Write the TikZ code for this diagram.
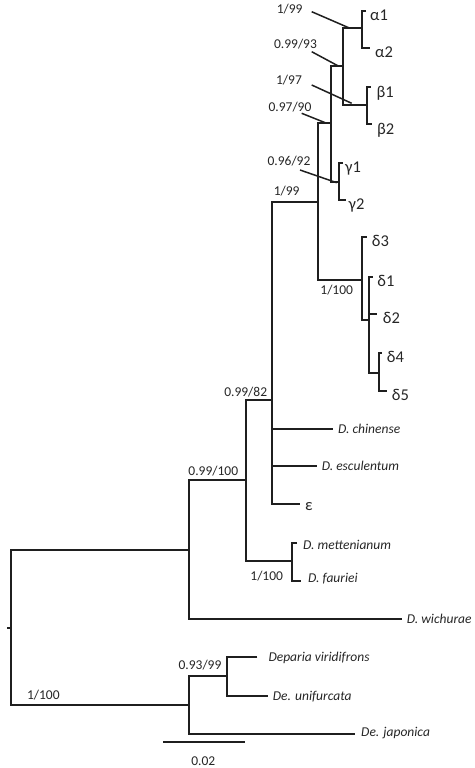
\documentclass[tikz,border=0pt]{standalone}
\usepackage{fontspec}
\setmainfont{Carlito}
\usetikzlibrary{calc}
\begin{document}
\begin{tikzpicture}[x=1pt,y=-1pt,
  br/.style={line width=1.8pt, line join=miter, color=black!88},
  ld/.style={line width=1.5pt, color=black!88},
  sup/.style={inner sep=0pt, font=\fontsize{13.5}{16}\selectfont, text=black!85},
  sp/.style={inner sep=0pt, anchor=west, font=\fontsize{13.5}{16}\selectfont\itshape, text=black!85},
  gk/.style={inner sep=0pt, anchor=base west, font=\fontsize{16.5}{19}\selectfont, text=black!85}]
\useasboundingbox (0,0) rectangle (474,768);
% internal nodes (x of bar, y of attachment)
\coordinate (R) at (11,627.7);
\coordinate (rs) at (7,627.7);
\coordinate (A) at (189,550);
\coordinate (B) at (246,480);
\coordinate (C) at (272,400);
\coordinate (D) at (318,202);
\coordinate (E) at (331,123);
\coordinate (F) at (343,66);
\coordinate (Al) at (362,28.3);
\coordinate (Be) at (367,105);
\coordinate (Gam) at (339,182);
\coordinate (Dl) at (362,280);
\coordinate (Dl2) at (369,320);
\coordinate (Dl3) at (379,373);
\coordinate (G) at (292,561);
\coordinate (H) at (189,705);
\coordinate (I) at (227,676);
% tips
\coordinate (a1) at (366,10.7);
\coordinate (a2) at (370,48.3);
\coordinate (b1) at (370.5,87);
\coordinate (b2) at (372,124);
\coordinate (g1) at (343,163);
\coordinate (g2) at (345.5,200);
\coordinate (d3) at (366.7,237);
\coordinate (d1) at (372.7,277);
\coordinate (d2) at (376.7,314);
\coordinate (d4) at (381.7,353);
\coordinate (d5) at (386.7,391);
\coordinate (chi) at (333,429);
\coordinate (esc) at (316.7,466);
\coordinate (eps) at (300,504);
\coordinate (met) at (297,543);
\coordinate (fau) at (301,581);
\coordinate (wic) at (401.7,619);
\coordinate (vir) at (257.3,656.7);
\coordinate (uni) at (267.7,695.7);
\coordinate (jap) at (355,734);
\coordinate (sb1) at (163.3,742.3);
\coordinate (sb2) at (245,742.3);
% branches
\draw[br] (rs) -- (R);
\draw[br] (A) -| (R) |- (H);
\draw[br] (B) -| (A) |- (wic);
\draw[br] (C) -| (B) |- (G);
\draw[br] (D) -| (C) |- (eps);
\draw[br] (C |- chi) -- (chi);
\draw[br] (C |- esc) -- (esc);
\draw[br] (E) -| (D) |- (Dl);
\draw[br] (F) -| (E) |- (Gam);
\draw[br] (Al) -| (F) |- (Be);
\draw[br] (a1) -| (Al) |- (a2);
\draw[br] (b1) -| (Be) |- (b2);
\draw[br] (g1) -| (Gam) |- (g2);
\draw[br] (d3) -| (Dl) |- (Dl2);
\draw[br] (d1) -| (Dl2) |- (Dl3);
\draw[br] (Dl2 |- d2) -- (d2);
\draw[br] (d4) -| (Dl3) |- (d5);
\draw[br] (met) -| (G) |- (fau);
\draw[br] (I) -| (H) |- (jap);
\draw[br] (vir) -| (I) |- (uni);
\draw[br] (sb1) -- (sb2);
% tip labels
\node[gk] (la1) at ($(a1)+(4,9.5)$) {α1};
\node[gk] (la2) at ($(a2)+(5,9.5)$) {α2};
\node[gk] (lb1) at ($(b1)+(6,10)$) {β1};
\node[gk] (lb2) at ($(b2)+(5,10)$) {β2};
\node[gk] (lg1) at ($(g1)+(2,9.5)$) {γ1};
\node[gk] (lg2) at ($(g2)+(3,9.5)$) {γ2};
\node[gk] (ld3) at ($(d3)+(5,9.5)$) {δ3};
\node[gk] (ld1) at ($(d1)+(4.5,9.5)$) {δ1};
\node[gk] (ld2) at ($(d2)+(6,9)$) {δ2};
\node[gk] (ld4) at ($(d4)+(5,9)$) {δ4};
\node[gk] (ld5) at ($(d5)+(5,9)$) {δ5};
\node[sp] (lchi) at ($(chi)+(5,0)$) {D. chinense};
\node[sp] (lesc) at ($(esc)+(5,0)$) {D. esculentum};
\node[gk] (leps) at ($(eps)+(5,6)$) {ε};
\node[sp] (lmet) at ($(met)+(6,1.5)$) {D. mettenianum};
\node[sp] (lfau) at ($(fau)+(7,-2)$) {D. fauriei};
\node[sp] (lwic) at ($(wic)+(5,0)$) {D. wichurae};
\node[sp] (lvir) at ($(vir)+(11,1.5)$) {Deparia viridifrons};
\node[sp] (luni) at ($(uni)+(5,1)$) {De. unifurcata};
\node[sp] (ljap) at ($(jap)+(6,-0.5)$) {De. japonica};
% support values
\node[sup] (s1) at (289.7,9) {1/99};
\node[sup] (s2) at (295.5,44) {0.99/93};
\node[sup] (s3) at (289,80) {1/97};
\node[sup] (s4) at (290,106.7) {0.97/90};
\node[sup] (s5) at (289,161) {0.96/92};
\node[sup] (s6) at (286.7,191) {1/99};
\node[sup] (s7) at (336.7,290.5) {1/100};
\node[sup] (s8) at (245.7,391.7) {0.99/82};
\node[sup] (s9) at (213.3,471.3) {0.99/100};
\node[sup] (s10) at (266.7,576) {1/100};
\node[sup] (s11) at (43.3,694.7) {1/100};
\node[sup] (s12) at (200,665) {0.93/99};
\node[sup] (s13) at (203.3,761.5) {0.02};
% leader lines
\coordinate (l1a) at (311.7,11.7); \coordinate (l1b) at (350,28.3);
\coordinate (l2a) at (311.7,51.7); \coordinate (l2b) at (338.3,66);
\coordinate (l3a) at (311.7,85);   \coordinate (l3b) at (351.7,103.3);
\coordinate (l4a) at (301.7,113.3); \coordinate (l4b) at (326.7,123.3);
\coordinate (l5a) at (300,170);    \coordinate (l5b) at (336.7,182.7);
\draw[ld] (l1a) -- (l1b);
\draw[ld] (l2a) -- (l2b);
\draw[ld] (l3a) -- (l3b);
\draw[ld] (l4a) -- (l4b);
\draw[ld] (l5a) -- (l5b);
\end{tikzpicture}
\end{document}
